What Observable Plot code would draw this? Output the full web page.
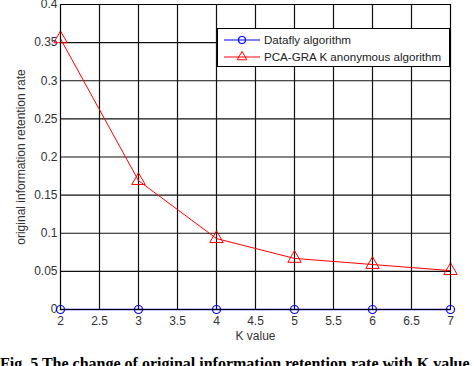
<!DOCTYPE html>
<html>
<head>
<meta charset="utf-8">
<script src="https://cdn.jsdelivr.net/npm/d3@7"></script>
<script src="https://cdn.jsdelivr.net/npm/@observablehq/plot@0.6"></script>
<style>
  html, body { margin: 0; padding: 0; background: #fff; overflow: hidden; }
  #wrap { position: relative; width: 474px; height: 366px; }
  #legend { position: absolute; left: 217px; top: 28px; width: 231px; height: 37px; border: 1px solid #000; background: #fff;
            font-family: "Liberation Sans", Arial, sans-serif; font-size: 11.6px; color: #222; }
  .row { position: absolute; left: 0; height: 17px; display: flex; align-items: center; }
  .row svg { margin-left: 6px; }
  .row span { margin-left: 4px; }
  #caption { position: absolute; left: 0px; top: 355px; font-family: "Liberation Serif", "Times New Roman", serif; font-weight: bold;
             font-size: 16px; white-space: nowrap; color: #000; }
</style>
</head>
<body>
<div id="wrap">
  <div id="chart"></div>
  <div id="legend"></div>
  <div id="caption"></div>
</div>
<script>
const kValues = [2, 3, 4, 5, 6, 7];
const dataflyRate = [0, 0, 0, 0, 0, 0];
const pcaGraRate = [0.355, 0.169, 0.093, 0.067, 0.059, 0.051];
const xTicks = [2, 2.5, 3, 3.5, 4, 4.5, 5, 5.5, 6, 6.5, 7];
const yTicks = [0, 0.05, 0.1, 0.15, 0.2, 0.25, 0.3, 0.35, 0.4];
const seriesNames = ["Datafly algorithm", "PCA-GRA K anonymous algorithm"];
const xLabel = "K value";
const yLabel = "original information retention rate";
const captionText = "Fig. 5   The change of original information retention rate with K value";

const blue = kValues.map((k, i) => ({k, v: dataflyRate[i]}));
const red = kValues.map((k, i) => ({k, v: pcaGraRate[i]}));
const fmt = d => String(+d.toFixed(2));

const chart = Plot.plot({
  width: 474,
  height: 348,
  marginLeft: 60,
  marginRight: 24,
  marginTop: 4,
  marginBottom: 39,
  style: {fontFamily: "'Liberation Sans', Arial, sans-serif", fontSize: "12px", color: "#333", background: "#fff"},
  x: {domain: [2, 7]},
  y: {domain: [0, 0.4]},
  marks: [
    Plot.gridX(xTicks, {stroke: "#111", strokeOpacity: 1, strokeWidth: 1.2}),
    Plot.gridY(yTicks, {stroke: "#111", strokeOpacity: 1, strokeWidth: 1.2}),
    Plot.axisX(xTicks, {tickSize: 0, tickPadding: 7, tickFormat: fmt, label: xLabel, labelAnchor: "center", labelArrow: "none", labelOffset: 30}),
    Plot.axisY(yTicks, {tickSize: 0, tickPadding: 3, tickFormat: fmt, label: yLabel, labelAnchor: "center", labelArrow: "none", labelOffset: 44}),
    Plot.line(red, {x: "k", y: "v", stroke: "#ff0000", strokeWidth: 1}),
    Plot.dot(red, {x: "k", y: "v", symbol: "triangle", r: 5, stroke: "#ff0000", fill: "none", strokeWidth: 1}),
    Plot.line(blue, {x: "k", y: "v", stroke: "#0000ff", strokeWidth: 1.5}),
    Plot.dot(blue, {x: "k", y: "v", symbol: "circle", r: 4, stroke: "#0000ff", fill: "none", strokeWidth: 1.2}),
    Plot.frame({stroke: "#000", strokeWidth: 1})
  ]
});
const chartDiv = document.getElementById("chart");
chartDiv.style.position = "absolute";
chartDiv.style.left = "0px";
chartDiv.style.top = "0px";
chartDiv.appendChild(chart);

// legend
const legend = document.getElementById("legend");
const styles = [{color: "#0000ff", sym: "circle"}, {color: "#ff0000", sym: "triangle"}];
seriesNames.forEach((name, i) => {
  const row = document.createElement("div");
  row.className = "row";
  row.style.top = (2 + i * 17) + "px";
  const s = styles[i];
  const markSym = s.sym === "circle"
    ? `<circle cx="18" cy="8" r="3.5" fill="none" stroke="${s.color}" stroke-width="1.2"/>`
    : `<path d="${d3.symbol(d3.symbolTriangle, 40)()}" transform="translate(18,8)" fill="none" stroke="${s.color}"/>`;
  row.innerHTML = `<svg width="36" height="16"><line x1="0" x2="36" y1="8" y2="8" stroke="${s.color}" stroke-width="1"/>${markSym}</svg><span>${name}</span>`;
  legend.appendChild(row);
});
document.getElementById("caption").textContent = captionText;
</script>
</body>
</html>
